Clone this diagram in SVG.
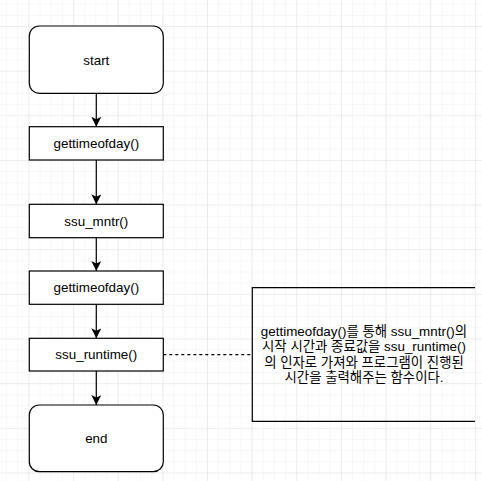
<svg xmlns="http://www.w3.org/2000/svg" width="482" height="481" viewBox="0 0 482 481">
<defs>
<pattern id="minor" patternUnits="userSpaceOnUse" x="6.1" y="3.7" width="11.16" height="11.16">
<path d="M0 0V11.16M0 0H11.16" fill="none" stroke="#f1f1f1" stroke-width="1"/>
</pattern>
<pattern id="major" patternUnits="userSpaceOnUse" x="28.4" y="26" width="44.65" height="44.65">
<path d="M0 0V44.65M0 0H44.65" fill="none" stroke="#e2e2e2" stroke-width="1"/>
</pattern>
<marker id="arr" viewBox="0 0 10 10" refX="10" refY="5" markerWidth="10" markerHeight="10" markerUnits="userSpaceOnUse" orient="auto">
<path d="M0 0L10 5L0 10L2.5 5Z" fill="#000"/>
</marker>
</defs>
<style>
.n{fill:#fff;stroke:#000;stroke-width:1.2}
.t{font-family:"Liberation Sans","Noto Sans CJK KR",sans-serif;font-size:13.4px;fill:#000;text-anchor:middle;dominant-baseline:central}
.c{stroke:#000;stroke-width:1.2;fill:none}
</style>
<rect width="482" height="481" fill="#fff"/>
<rect width="482" height="481" fill="url(#minor)"/>
<rect width="482" height="481" fill="url(#major)"/>
<g id="connectors">
<line class="c" x1="96.3" y1="93.3" x2="96.3" y2="126.7" marker-end="url(#arr)"/>
<line class="c" x1="96.3" y1="160" x2="96.3" y2="204.3" marker-end="url(#arr)"/>
<line class="c" x1="96.3" y1="237.7" x2="96.3" y2="271" marker-end="url(#arr)"/>
<line class="c" x1="96.3" y1="304.3" x2="96.3" y2="338.3" marker-end="url(#arr)"/>
<line class="c" x1="96.3" y1="371" x2="96.3" y2="405" marker-end="url(#arr)"/>
<line class="c" x1="163.3" y1="354.7" x2="252.3" y2="354.7" stroke-dasharray="3 3"/>
</g>
<g id="start">
<rect class="n" x="29.3" y="26" width="134" height="67.3" rx="10"/>
<text class="t" x="96.3" y="60">start</text>
</g>
<g id="gettimeofday1">
<rect class="n" x="29.3" y="126.7" width="134" height="33.3"/>
<text class="t" x="96.3" y="143.5">gettimeofday()</text>
</g>
<g id="ssu_mntr">
<rect class="n" x="29.3" y="204.3" width="134" height="33.4"/>
<text class="t" x="96.3" y="221">ssu_mntr()</text>
</g>
<g id="gettimeofday2">
<rect class="n" x="29.3" y="271" width="134" height="33.3"/>
<text class="t" x="96.3" y="287.7">gettimeofday()</text>
</g>
<g id="ssu_runtime">
<rect class="n" x="29.3" y="338.3" width="134" height="32.7"/>
<text class="t" x="96.3" y="354.7">ssu_runtime()</text>
</g>
<g id="end">
<rect class="n" x="29.3" y="405" width="134" height="66.7" rx="10"/>
<text class="t" x="96.3" y="438.5">end</text>
</g>
<g id="note">
<path d="M475 287.7H252.3V421.3H475" fill="none" stroke="#000" stroke-width="1.2"/>
<text class="t" x="364" y="331.5">gettimeofday()를 통해 ssu_mntr()의</text>
<text class="t" x="364" y="346.8">시작 시간과 종료값을 ssu_runtime()</text>
<text class="t" x="364" y="362.1">의 인자로 가져와 프로그램이 진행된</text>
<text class="t" x="364" y="377.4">시간을 출력해주는 함수이다.</text>
</g>
</svg>
